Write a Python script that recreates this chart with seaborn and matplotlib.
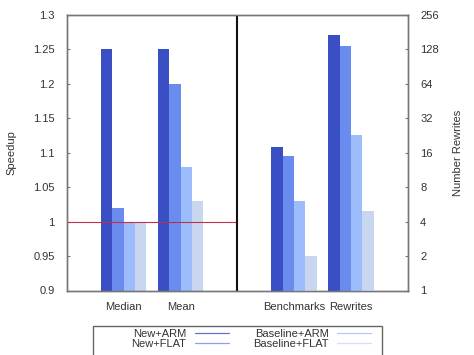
import numpy as np
import pandas as pd
import seaborn as sns
import matplotlib
matplotlib.use("Agg")
import matplotlib.pyplot as plt
from matplotlib.lines import Line2D
from matplotlib.patches import Rectangle

# speedup (left axis)
speed_cats = ["Median", "Mean"]
speed_pos = [0, 1]
speed_new_arm = [1.25, 1.25]
speed_new_flat = [1.02, 1.20]
speed_base_arm = [1.0, 1.08]
speed_base_flat = [1.0, 1.03]

# number of rewrites (right axis, log2)
rew_cats = ["Benchmarks", "Rewrites"]
rew_pos = [3, 4]
rew_new_arm = [18, 170]
rew_new_flat = [15, 136]
rew_base_arm = [6, 23]
rew_base_flat = [2, 5]

configs = ["New+ARM", "New+FLAT", "Baseline+ARM", "Baseline+FLAT"]
colors = ["#3a4fc4", "#6a8cee", "#9dbcfb", "#c8d7ef"]
right_ticks = [1, 2, 4, 8, 16, 32, 64, 128, 256]


def long_form(pos, series):
    rows = []
    for cfg, vals in zip(configs, series):
        for p, v in zip(pos, vals):
            rows.append({"pos": p, "config": cfg, "value": v})
    return pd.DataFrame(rows)


speed_df = long_form(speed_pos, [speed_new_arm, speed_new_flat, speed_base_arm, speed_base_flat])
rew_df = long_form(rew_pos, [rew_new_arm, rew_new_flat, rew_base_arm, rew_base_flat])

sns.set_style("white")
plt.rcParams["font.family"] = ["Liberation Sans", "DejaVu Sans"]
plt.rcParams["font.size"] = 8

fig = plt.figure(figsize=(4.74, 3.55), dpi=100)
ax = fig.add_axes([67 / 474, 1 - 290.5 / 355, (407.7 - 67) / 474, (290.5 - 15) / 355])
ax2 = ax.twinx()
ax2.set_yscale("log", base=2)

sns.barplot(data=speed_df, x="pos", y="value", hue="config", hue_order=configs,
            palette=colors, saturation=1, native_scale=True, linewidth=0,
            legend=False, ax=ax)
sns.barplot(data=rew_df, x="pos", y="value", hue="config", hue_order=configs,
            palette=colors, saturation=1, native_scale=True, linewidth=0,
            legend=False, ax=ax2)

ax.set_xlim(-1, 5)
ax.set_ylim(0.9, 1.3)
ax.set_yticks(np.arange(0.9, 1.3001, 0.05))
ax.set_yticklabels(["0.9", "0.95", "1", "1.05", "1.1", "1.15", "1.2", "1.25", "1.3"])
ax.set_xticks(speed_pos + rew_pos)
ax.set_xticklabels(speed_cats + rew_cats)
ax.set_xlabel("")
ax.set_ylabel("Speedup", color="#333333", labelpad=12)

ax2.set_ylim(1, 256)
ax2.set_yticks(right_ticks)
ax2.set_yticklabels([str(t) for t in right_ticks])
ax2.minorticks_off()
ax2.set_ylabel("Number Rewrites", color="#333333", labelpad=10)
ax2.set_xlabel("")

# reference line and split between the two halves
ax.plot([-1, 2], [1.0, 1.0], color="#c0304a", lw=0.8, zorder=5)
ax.axvline(2, color="#111111", lw=1.5, zorder=5)

for a in (ax, ax2):
    for s in a.spines.values():
        s.set_color("#777777")
        s.set_linewidth(1.0)
ax.tick_params(axis="y", direction="in", length=2.5, width=0.8, color="#777777",
               labelcolor="#333333", pad=9)
ax2.tick_params(axis="y", direction="in", length=2.5, width=0.8, color="#777777",
                labelcolor="#333333", pad=9)
ax.tick_params(axis="x", length=0, labelcolor="#333333", pad=8)

handles = [Line2D([], [], color=c, lw=0.9, alpha=0.8) for c in colors]
fig.legend(handles, configs, ncol=2, markerfirst=False, frameon=False,
           loc="upper left", bbox_to_anchor=(126 / 474, 1 - 323.5 / 355),
           borderpad=0, handlelength=3.0, handletextpad=0.8, columnspacing=2.2,
           labelspacing=0.0, labelcolor="#333333")
fig.add_artist(Rectangle((93 / 474, -0.05), 289 / 474, 0.05 + 1 - 326 / 355,
                         transform=fig.transFigure, fill=False,
                         edgecolor="#666666", lw=1.0))

fig.savefig("out.png", dpi=100)
